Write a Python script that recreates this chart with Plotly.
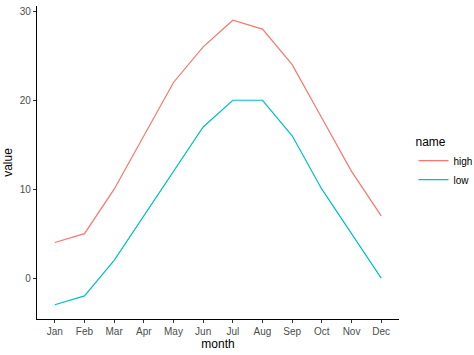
import plotly.graph_objects as go

months = ["Jan", "Feb", "Mar", "Apr", "May", "Jun", "Jul", "Aug", "Sep", "Oct", "Nov", "Dec"]
high = [4, 5, 10, 16, 22, 26, 29, 28, 24, 18, 12, 7]
low = [-3, -2, 2, 7, 12, 17, 20, 20, 16, 10, 5, 0]
series_names = ["high", "low"]
colors = ["#F8766D", "#00BFC4"]

fig = go.Figure()
for name, vals, c in zip(series_names, [high, low], colors):
    fig.add_trace(go.Scatter(x=list(range(len(months))), y=vals, mode="lines", name=name,
                             line=dict(color=c, width=1.2)))

font = "Liberation Sans, Arial, sans-serif"
fig.update_layout(
    width=474, height=355,
    margin=dict(l=37, r=75, t=6, b=36, autoexpand=False),
    plot_bgcolor="white", paper_bgcolor="white",
    font=dict(family=font, color="black"),
    showlegend=True,
    legend=dict(title=dict(text="name", font=dict(size=12, color="black")),
                font=dict(size=10, color="black"),
                x=1.04, y=0.5, xanchor="left", yanchor="middle",
                tracegroupgap=0, itemwidth=30),
    xaxis=dict(
        range=[-0.6, 11.6], tickmode="array", tickvals=list(range(len(months))), ticktext=months,
        showgrid=False, zeroline=False, showline=True, linecolor="black", linewidth=1.2,
        ticks="outside", ticklen=3, tickcolor="#333333", tickwidth=1.1,
        tickfont=dict(size=10, color="#4D4D4D"),
        title=dict(text="month", font=dict(size=12, color="black"), standoff=3),
    ),
    yaxis=dict(
        range=[-4.6, 30.6], tickvals=[0, 10, 20, 30],
        showgrid=False, zeroline=False, showline=True, linecolor="black", linewidth=1.2,
        ticks="outside", ticklen=3, tickcolor="#333333", tickwidth=1.1,
        tickfont=dict(size=10, color="#4D4D4D"),
        title=dict(text="value", font=dict(size=12, color="black"), standoff=4),
    ),
)
fig.write_html("out.html", config={"displayModeBar": False},
               post_script="document.body.style.margin='0px';")
